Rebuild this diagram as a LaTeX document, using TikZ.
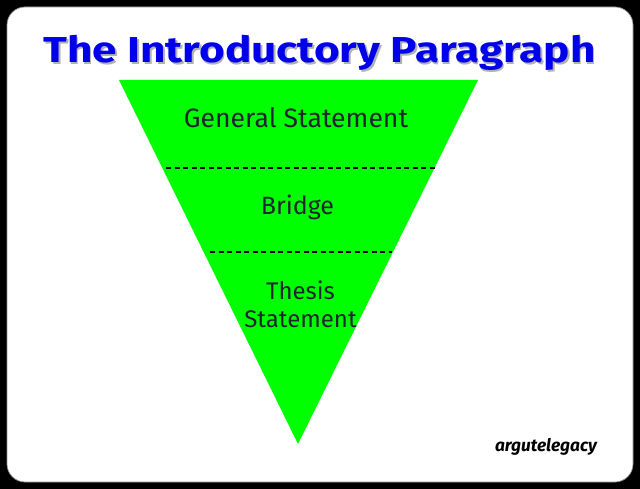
\documentclass[tikz,border=0pt]{standalone}
\usepackage{fontspec}
\setmainfont{Fira Sans}
\newfontfamily\titlefont{Fira Sans}
\definecolor{tblue}{RGB}{0,0,235}
\definecolor{tgreen}{RGB}{0,255,0}
\definecolor{tink}{RGB}{32,36,48}
\tikzset{
  x=1pt,y=-1pt,
  panel/.style={fill=white,draw=black!45,line width=0.7pt,rounded corners=18pt},
  cone/.style={fill=tgreen,draw=none},
  divider/.style={draw=black,line width=2.5pt,dash pattern=on 5.3pt off 3.2pt},
  label/.style={text=tink,align=center,inner sep=0pt},
  titletext/.style={font=\titlefont\bfseries\fontsize{36}{40}\selectfont,inner sep=0pt,xscale=1.225,transform shape},
  credit/.style={text=black,font=\bfseries\itshape\fontsize{17.3}{19}\selectfont,inner sep=0pt}
}
\begin{document}
\begin{tikzpicture}
\useasboundingbox (0,0) rectangle (640,489);
\fill[black] (0,0) rectangle (640,489);
\draw[panel] (7,7) rectangle (633,482);
\fill[cone] (119,80) -- (478,80) -- (298,444) -- cycle;
\coordinate (d1a) at (166,168); \coordinate (d1b) at (436,168);
\coordinate (d2a) at (210,252); \coordinate (d2b) at (392,252);
\draw[divider] (d1a) -- (d1b);
\draw[divider] (d2a) -- (d2b);
\node[titletext,text=black!30] (titleshadow) at (321,54.5) {The Introductory Paragraph};
\node[titletext,text=tblue] (title) at (319.5,53) {The Introductory Paragraph};
\node[label,font=\fontsize{26.6}{30}\selectfont] (general) at (296,118) {General Statement};
\node[label,font=\fontsize{25}{28}\selectfont] (bridge) at (297.5,207) {Bridge};
\node[label,font=\fontsize{24}{28}\selectfont] (thesis) at (300.5,304.5) {Thesis\\Statement};
\node[credit] (credit) at (546,447) {argutelegacy};
\end{tikzpicture}
\end{document}
